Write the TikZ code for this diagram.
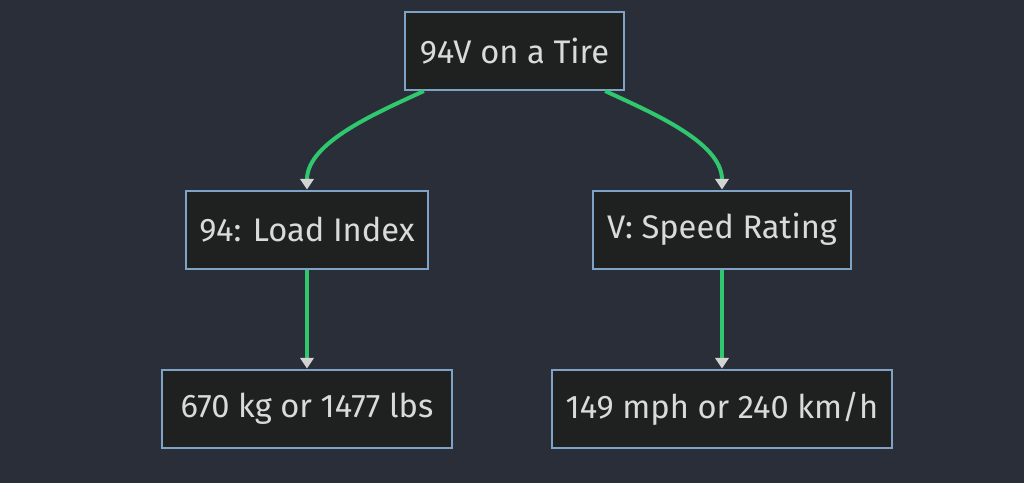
\documentclass[tikz,border=0pt]{standalone}
\usepackage{fontspec}
\setmainfont{Fira Sans}
\usetikzlibrary{arrows.meta}

\definecolor{bgcol}{HTML}{2A2E39}
\definecolor{boxfill}{HTML}{1F2020}
\definecolor{boxline}{HTML}{7FA3C6}
\definecolor{txtcol}{HTML}{DADADA}
\definecolor{linkcol}{HTML}{2FC86E}
\definecolor{tipcol}{HTML}{D3D3D3}

\tikzset{
    box/.style = {draw = boxline, fill = boxfill, line width = 1.5pt, text = txtcol,
        minimum height = 58.5pt, inner sep = 0pt, font = \fontsize{24.5}{28}\selectfont},
    link/.style = {draw = linkcol, line width = 3pt,
        -{Triangle[length = 8pt, width = 10pt, color = tipcol]}}
}

\begin{document}
\begin{tikzpicture}[x = 0.75pt, y = -0.75pt]
            \fill[bgcol] (0, 0) rectangle (1024, 483);
            \useasboundingbox (0, 0) rectangle (1024, 483);

            \def\xl{307}
            \def\xr{722}

            \node[box, minimum width = 164pt] (tire) at (514.5, 51) {94V on a Tire};
            \node[box, minimum width = 181.5pt] (load) at (\xl, 229.5) {94: Load Index};
            \node[box, minimum width = 193pt] (speed) at (\xr, 229.5) {V: Speed Rating};
            \node[box, minimum width = 217.5pt] (mass) at (\xl, 408.5) {670 kg or 1477 lbs};
            \node[box, minimum width = 255pt] (velo) at (\xr, 408.5) {149 mph or 240 km/h};

            \draw[link] ([xshift = -68pt] tire.south) to[out = 205, in = 90, looseness = 0.8] (load.north);
            \draw[link] ([xshift = 68pt] tire.south) to[out = -25, in = 90, looseness = 0.8] (speed.north);
            \draw[link] (load) -- (mass);
            \draw[link] (speed) -- (velo);
        \end{tikzpicture}
\end{document}
